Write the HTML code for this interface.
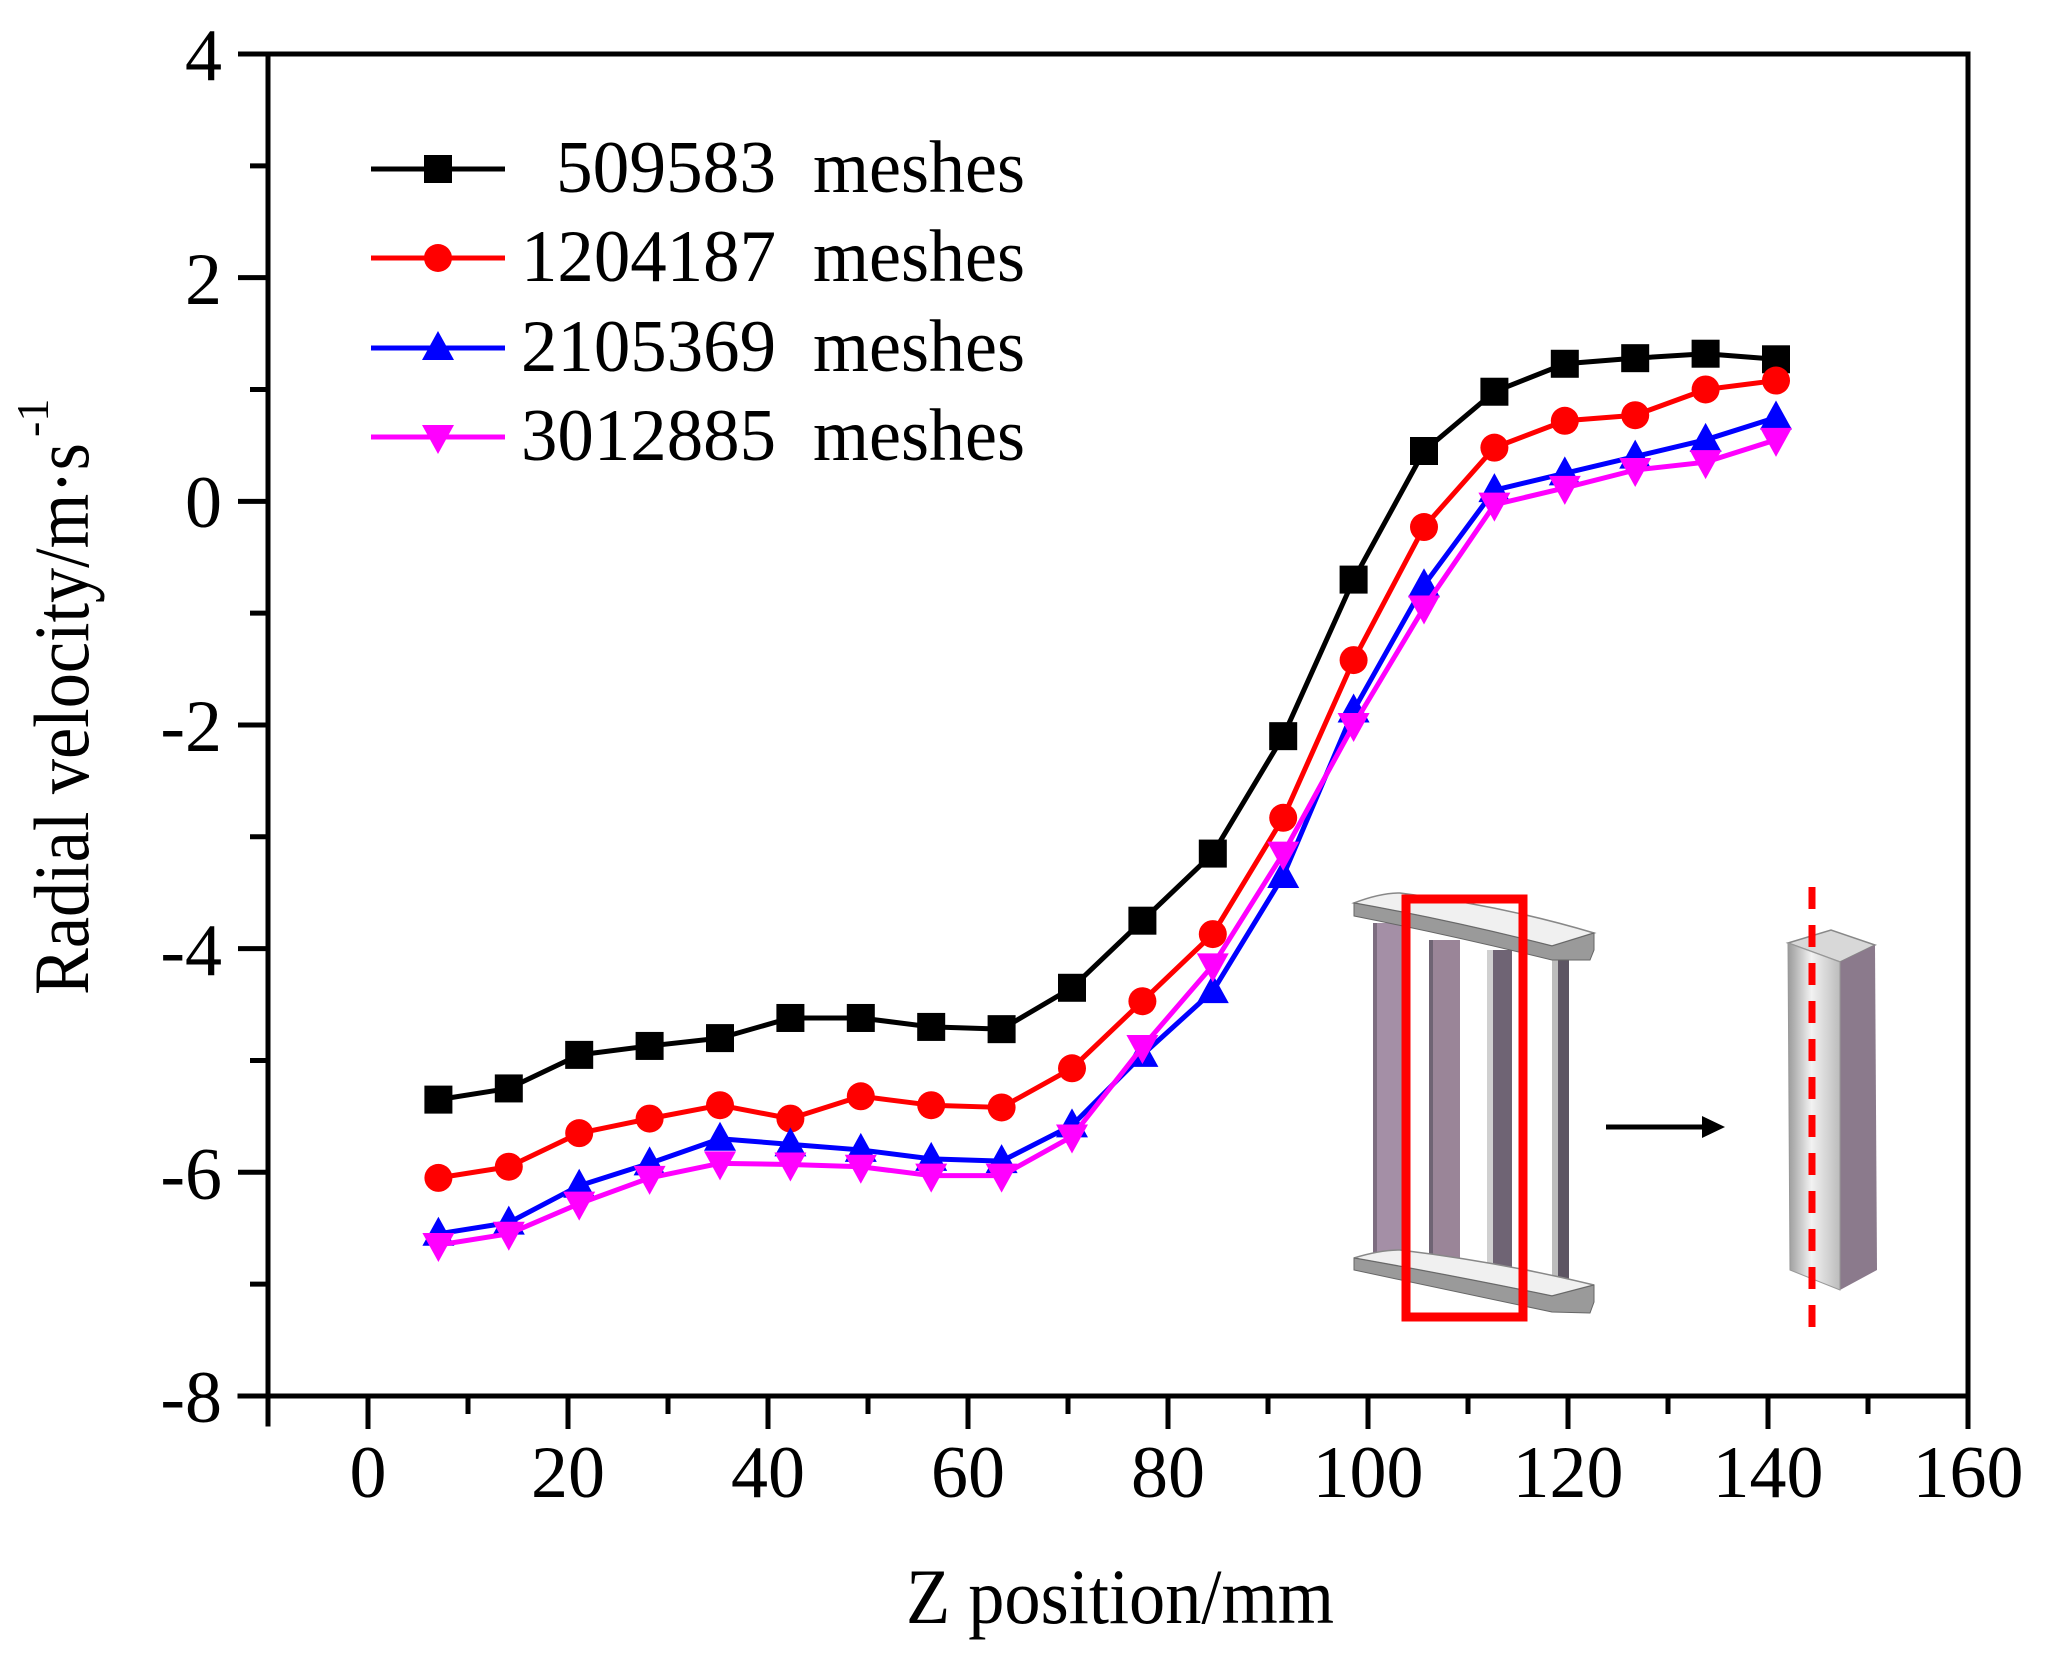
<!DOCTYPE html>
<html><head><meta charset="utf-8"><style>
html,body{margin:0;padding:0;background:#fff;}
svg{display:block;}
text{font-family:"Liberation Serif",serif;fill:#000;}
</style></head><body>
<svg id="s" width="2050" height="1661" viewBox="0 0 2050 1661" xmlns="http://www.w3.org/2000/svg">
<defs>
<linearGradient id="g1" x1="0" x2="1" y1="0" y2="0">
<stop offset="0" stop-color="#9a9a9a"/><stop offset="0.45" stop-color="#f2f2f2"/><stop offset="1" stop-color="#bcbcbc"/>
</linearGradient>
</defs>
<g stroke="#000" stroke-width="5" fill="none" stroke-linecap="square">
<line x1="268" y1="54" x2="1968" y2="54"/>
<line x1="1968" y1="54" x2="1968" y2="1396"/>
<line x1="268" y1="54" x2="268" y2="1424"/>
<line x1="240" y1="1396" x2="1968" y2="1396"/>
</g>
<g id="ticks" stroke="#000" stroke-width="5"></g>
<g font-size="74" text-anchor="end">
<text x="222" y="80">4</text>
<text x="222" y="304">2</text>
<text x="222" y="527">0</text>
<text x="222" y="751">-2</text>
<text x="222" y="975">-4</text>
<text x="222" y="1199">-6</text>
<text x="222" y="1422">-8</text>
</g>
<g font-size="74" text-anchor="middle">
<text x="368" y="1497">0</text>
<text x="568" y="1497">20</text>
<text x="768" y="1497">40</text>
<text x="968" y="1497">60</text>
<text x="1168" y="1497">80</text>
<text x="1368" y="1497">100</text>
<text x="1568" y="1497">120</text>
<text x="1768" y="1497">140</text>
<text x="1968" y="1497">160</text>
</g>
<text x="906" y="1623" font-size="78" textLength="428" lengthAdjust="spacingAndGlyphs">Z position/mm</text>
<g transform="translate(88,995) rotate(-90)">
<text x="0" y="0" font-size="78" textLength="552" lengthAdjust="spacingAndGlyphs">Radial velocity/m·s</text>
<text x="558" y="-40" font-size="46">-1</text>
</g>
<g font-size="74">
<text x="556" y="192" textLength="220" lengthAdjust="spacingAndGlyphs">509583</text>
<text x="521" y="281" textLength="255" lengthAdjust="spacingAndGlyphs">1204187</text>
<text x="521" y="371" textLength="255" lengthAdjust="spacingAndGlyphs">2105369</text>
<text x="521" y="460" textLength="255" lengthAdjust="spacingAndGlyphs">3012885</text>
<text x="813" y="192" textLength="212" lengthAdjust="spacingAndGlyphs">meshes</text>
<text x="813" y="281" textLength="212" lengthAdjust="spacingAndGlyphs">meshes</text>
<text x="813" y="371" textLength="212" lengthAdjust="spacingAndGlyphs">meshes</text>
<text x="813" y="460" textLength="212" lengthAdjust="spacingAndGlyphs">meshes</text>
</g>
<g id="series"></g>
<g id="legend"></g>
<g>
<rect x="1373" y="923" width="29" height="344" fill="#a48fa6"/>
<rect x="1373" y="923" width="4" height="344" fill="#7d6d80"/>
<rect x="1429" y="940" width="31" height="343" fill="#9a8598"/>
<rect x="1429" y="940" width="4" height="343" fill="#6f6474"/>
<rect x="1487" y="950" width="6" height="343" fill="#d0d0d0"/>
<rect x="1493" y="950" width="19" height="343" fill="#6f6474"/>
<rect x="1552" y="957" width="6" height="343" fill="#bdbdbd"/>
<rect x="1558" y="957" width="11" height="343" fill="#5d5563"/>
<path d="M1354,903 Q1380,893 1400,893 Q1500,905 1594,933 L1552,946 Q1450,920 1354,903 Z" fill="#f0f0f0" stroke="#888" stroke-width="1.5"/>
<path d="M1354,903 Q1450,920 1552,946 L1594,933 L1594,950 L1590,960 L1552,960 Q1450,935 1354,916 Z" fill="#9a9a9a" stroke="#666" stroke-width="1"/>
<path d="M1354,1258 Q1380,1250 1400,1250 Q1500,1262 1594,1285 L1552,1296 Q1450,1275 1354,1258 Z" fill="#f0f0f0" stroke="#888" stroke-width="1.5"/>
<path d="M1354,1258 Q1450,1275 1552,1296 L1594,1285 L1594,1302 L1590,1313 L1552,1312 Q1450,1290 1354,1270 Z" fill="#9a9a9a" stroke="#666" stroke-width="1"/>
<rect x="1406" y="899" width="117" height="418" fill="none" stroke="#ff0000" stroke-width="9"/>
<line x1="1606" y1="1127" x2="1710" y2="1127" stroke="#000" stroke-width="5"/>
<polygon points="1702,1116 1725,1127 1702,1138" fill="#000"/>
<polygon points="1788,943 1831,930 1875,945 1840,962" fill="#d8d8d8" stroke="#888" stroke-width="1.5"/>
<polygon points="1840,962 1875,945 1877,1270 1840,1290" fill="#8b7a8c"/>
<polygon points="1788,943 1840,962 1840,1290 1790,1270" fill="url(#g1)" stroke="#999" stroke-width="1"/>
<line x1="1812" y1="887" x2="1812" y2="1342" stroke="#ff0000" stroke-width="7" stroke-dasharray="22,16"/>
</g>
</svg>
<script>
var NS="http://www.w3.org/2000/svg";
function X(v){return 368+v*10;}
function Y(v){return 54+(4-v)*111.83;}
var tk=document.getElementById('ticks');
function ln(p,x1,y1,x2,y2,c,w){var l=document.createElementNS(NS,'line');l.setAttribute('x1',x1);l.setAttribute('y1',y1);l.setAttribute('x2',x2);l.setAttribute('y2',y2);l.setAttribute('stroke',c);l.setAttribute('stroke-width',w);p.appendChild(l);}
for(var v=-8;v<=4;v++){var y=Y(v);if(v%2==0)ln(tk,238,y,268,y,'#000',5);else ln(tk,250,y,268,y,'#000',5);}
for(var v=0;v<=160;v+=10){var x=X(v);if(v%20==0)ln(tk,x,1396,x,1429,'#000',5);else ln(tk,x,1396,x,1414,'#000',5);}
var data=[
['#000','sq',[-5.35,-5.25,-4.95,-4.87,-4.8,-4.62,-4.62,-4.7,-4.72,-4.35,-3.75,-3.15,-2.1,-0.7,0.45,0.98,1.23,1.28,1.32,1.27]],
['#ff0000','ci',[-6.05,-5.95,-5.65,-5.52,-5.4,-5.52,-5.32,-5.4,-5.42,-5.07,-4.47,-3.87,-2.83,-1.42,-0.23,0.48,0.72,0.77,1.0,1.08]],
['#0000ff','up',[-6.55,-6.45,-6.12,-5.92,-5.7,-5.75,-5.8,-5.88,-5.9,-5.58,-4.95,-4.38,-3.35,-1.87,-0.75,0.1,0.25,0.4,0.55,0.75]],
['#ff00ff','dn',[-6.65,-6.55,-6.28,-6.05,-5.92,-5.93,-5.95,-6.03,-6.03,-5.68,-4.88,-4.15,-3.15,-2.0,-0.95,-0.03,0.12,0.28,0.35,0.55]]
];
function marker(p,t,x,y,c){var e;
if(t=='sq'){e=document.createElementNS(NS,'rect');e.setAttribute('x',x-14);e.setAttribute('y',y-14);e.setAttribute('width',28);e.setAttribute('height',28);}
else if(t=='ci'){e=document.createElementNS(NS,'circle');e.setAttribute('cx',x);e.setAttribute('cy',y);e.setAttribute('r',14);}
else if(t=='up'){e=document.createElementNS(NS,'polygon');e.setAttribute('points',(x-16)+','+(y+12)+' '+(x+16)+','+(y+12)+' '+x+','+(y-17));}
else{e=document.createElementNS(NS,'polygon');e.setAttribute('points',(x-16)+','+(y-12)+' '+(x+16)+','+(y-12)+' '+x+','+(y+17));}
e.setAttribute('fill',c);p.appendChild(e);}
var sg=document.getElementById('series');
data.forEach(function(d){var pts=d[2].map(function(v,i){return X(7.04*(i+1))+','+Y(v);}).join(' ');
var pl=document.createElementNS(NS,'polyline');pl.setAttribute('points',pts);pl.setAttribute('fill','none');pl.setAttribute('stroke',d[0]);pl.setAttribute('stroke-width',5);pl.setAttribute('stroke-linejoin','round');sg.appendChild(pl);
d[2].forEach(function(v,i){marker(sg,d[1],X(7.04*(i+1)),Y(v),d[0]);});});
var lg=document.getElementById('legend');var ly=[169,258,348,437];
data.forEach(function(d,i){ln(lg,371,ly[i],505,ly[i],d[0],5);marker(lg,d[1],438,ly[i],d[0]);});
</script>
</body></html>
